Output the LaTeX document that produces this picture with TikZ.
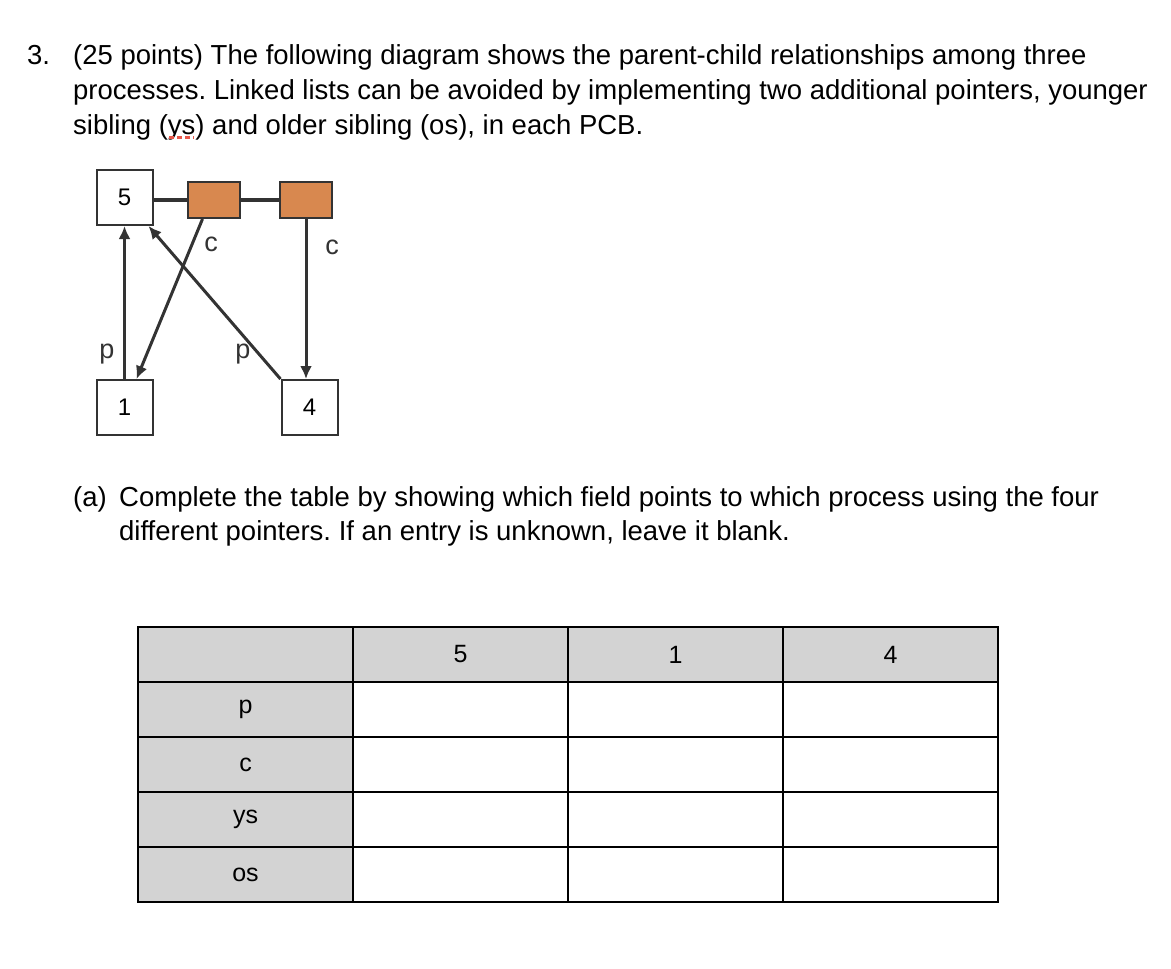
\documentclass[tikz,border=0pt]{standalone}
\usepackage{fontspec}
\setmainfont{Liberation Sans}
\usepackage{xcolor}
\usetikzlibrary{arrows.meta}
\definecolor{pcborange}{HTML}{D8884F}
\definecolor{lineg}{HTML}{333333}
\definecolor{cellg}{HTML}{D3D3D3}
\definecolor{spellred}{HTML}{E8574A}
\frenchspacing

\begin{document}
\begin{tikzpicture}[x=1pt, y=-1pt,
	txt/.style={anchor=base west, inner sep=0pt, font=\fontsize{27.5}{32}\selectfont},
	proc/.style={draw=lineg, line width=2pt, fill=white, minimum width=56pt, minimum height=55pt, inner sep=0pt, font=\fontsize{24}{28}\selectfont},
	pcb/.style={draw=lineg, line width=2pt, fill=pcborange, minimum width=52pt, minimum height=36pt, inner sep=0pt},
	ptr/.style={draw=lineg, line width=3pt, -{Latex[length=13pt,width=12pt]}},
	lbl/.style={text=lineg, inner sep=0pt, font=\fontsize{27}{30}\selectfont},
	cell/.style={draw=black, line width=2pt, minimum width=215pt, minimum height=55pt, inner sep=0pt, font=\fontsize{25}{28}\selectfont}]
	\useasboundingbox (0,0) rectangle (1171,969);
	% question text
	\node[txt] (num) at (27,64) {3.};
	\node[txt] (q1) at (73,64) {(25 points) The following diagram shows the parent-child relationships among three};
	\node[txt] (q2) at (73,99) {processes. Linked lists can be avoided by implementing two additional pointers, younger};
	\node[txt] (q3) at (73,134) {sibling (ys) and older sibling (os), in each PCB.};
	\draw[spellred, line width=3pt, dash pattern=on 5pt off 3pt] (169,137.5) -- (194,137.5);
	% processes
	\draw (124.5,197.5) node[proc] (p5) {5};
	\draw (124.5,407.5) node[proc] (p1) {1};
	\draw (309.5,407.5) node[proc] (p4) {4};
	\draw (213.5,200) node[pcb] (c1) {};
	\draw (306,200) node[pcb] (c2) {};
	\draw[lineg, line width=3.5pt] (p5.east |- c1.west) -- (c1.west);
	\draw[lineg, line width=3.5pt] (c1) -- (c2);
	\draw[ptr] (p1) -- (p5);
	\draw[ptr] ([xshift=-11pt]c1.south) -- ([xshift=12pt]p1.north);
	\draw[ptr] (c2.south) -- (c2.south |- p4.north);
	\draw[ptr] (p4.north west) -- ([xshift=-5pt]p5.south east);
	\node[lbl] (lc1) at (211,244) {c};
	\node[lbl] (lc2) at (332,247) {c};
	\node[lbl] (lp1) at (107,354) {p};
	\node[lbl] (lp4) at (243,354) {p};
	% part (a)
	\node[txt] (anum) at (73,506) {(a)};
	\node[txt] (a1) at (119,506) {Complete the table by showing which field points to which process using the four};
	\node[txt] (a2) at (119,540) {different pointers. If an entry is unknown, leave it blank.};
	% table
	\node[cell, fill=cellg] (h0) at (245.5,654.5) {};
	\node[cell, fill=cellg] (h5) at (460.5,654.5) {5};
	\node[cell, fill=cellg] (h1) at (675.5,654.5) {1};
	\node[cell, fill=cellg] (h4) at (890.5,654.5) {4};
	\foreach \r/\name [count=\i] in {p/p, c/c, ys/ys, os/os} {
		\node[cell, fill=cellg] (r\name) at (245.5,654.5+55*\i) {\r};
		\node[cell] (r\name5) at (460.5,654.5+55*\i) {};
		\node[cell] (r\name1) at (675.5,654.5+55*\i) {};
		\node[cell] (r\name4) at (890.5,654.5+55*\i) {};
	}
\end{tikzpicture}
\end{document}
